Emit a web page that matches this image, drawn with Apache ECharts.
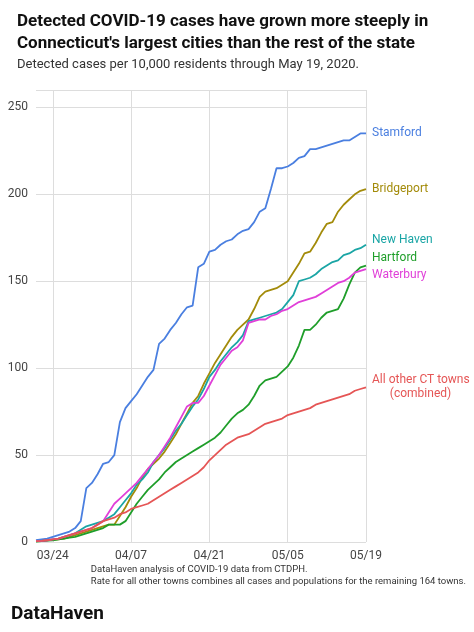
<!DOCTYPE html><html><head><meta charset="utf-8"><script src="https://cdn.jsdelivr.net/npm/echarts@6/dist/echarts.min.js"></script>
<style>body{margin:0}#c{width:474px;height:632px}</style></head><body><div id="c"></div><script>
const dates=[];(function(){const d=new Date(2020,2,21);for(let i=0;i<60;i++){dates.push(String(d.getMonth()+1).padStart(2,'0')+'/'+String(d.getDate()).padStart(2,'0'));d.setDate(d.getDate()+1);}})();
const stamford=[1,1.5,2,3,4,5,6,8,12,31,34,39,45,46,50,69,77,81,85,90,95,99,114,117,122,126,131,135,136,158,160,167,168,171,173,174,177,179,180,184,190,192,203,215,215,216,218,221,222,226,226,227,228,229,230,231,231,233,235,235];
const bridgeport=[0.5,0.7,1,1.2,1.5,2,3,4,5,6,7,8,9,10,10,15,20,26,31,37,42,45,48,52,57,62,68,74,80,84,91,97,103,108,113,118,122,125,128,134,141,144,145,146,148,150,155,160,166,167,172,178,183,184,190,194,197,200,202,203];
const newhaven=[0.5,0.7,1,1.5,2,3,4,5,7,9,10,11,12,14,16,20,24,28,33,36,40,46,50,54,59,64,68,73,78,82,88,95,99,104,108,112,115,119,127,128,129,130,131,132,134,138,142,150,151,152,154,157,159,161,162,165,166,168,169,171];
const hartford=[0.3,0.5,0.8,1,1.5,2,2.5,3,4,5,6,7,8,10,10,10,12,17,22,26,30,33,36,40,43,46,48,50,52,54,56,58,60,63,67,71,74,76,79,84,90,93,94,95,98,101,106,113,122,122,125,129,132,133,134,140,148,155,158,159];
const waterbury=[0.5,0.7,1,1.5,2,3,4,5,6,7,8,10,12,17,22,25,28,31,34,38,42,46,50,55,60,66,72,78,80,80,84,90,96,102,106,110,112,116,126,127,128,128,130,131,133,134,136,138,139,140,141,143,145,147,149,150,152,155,156,157];
const other=[0.5,0.7,1,1.5,2,3,4,5,6,7,8,10,12,13,14,16,17,19,20,21,22,24,26,28,30,32,34,36,38,40,43,47,50,53,56,58,60,61,62,64,66,68,69,70,71,73,74,75,76,77,79,80,81,82,83,84,85,87,88,89];
const names=['Stamford','Bridgeport','New Haven','Hartford','Waterbury','All other CT towns\n      (combined)'];
const colors=['#4a7fe0','#a38b0a','#1aa5a5','#1f9e2a','#e03fd8','#e55555'];
const vals=[stamford,bridgeport,newhaven,hartford,waterbury,other];
const ch=echarts.init(document.getElementById('c'));
const iv=(i)=>(i-3)%14===0;
ch.setOption({animation:false,textStyle:{fontFamily:'Roboto'},
title:[{text:"Detected COVID-19 cases have grown more steeply in\nConnecticut's largest cities than the rest of the state",left:12,top:6,textStyle:{fontSize:17,fontWeight:'bold',color:'#111',lineHeight:22}},
{text:'Detected cases per 10,000 residents through May 19, 2020.',left:12,top:53,textStyle:{fontSize:13,fontWeight:'normal',color:'#333'}},
{text:'DataHaven',left:6,top:600,textStyle:{fontSize:19,fontWeight:'bold',color:'#111'}}],
graphic:[{type:'text',right:8,top:564,style:{text:'DataHaven analysis of COVID-19 data from CTDPH.\nRate for all other towns combines all cases and populations for the remaining 164 towns.',align:'right',fontSize:9.5,lineHeight:12,fill:'#333',fontFamily:'Roboto'}}],
grid:{left:36,right:108,top:90,bottom:90},
xAxis:{type:'category',data:dates,boundaryGap:false,axisLine:{show:false},axisTick:{show:false},
 axisLabel:{interval:(i)=>iv(i),color:'#444',fontSize:12},splitLine:{show:true,interval:(i)=>iv(i),lineStyle:{color:'#ddd'}}},
yAxis:{type:'value',min:0,max:260,interval:50,axisLabel:{color:'#444',fontSize:12,showMaxLabel:false},splitLine:{lineStyle:{color:'#ddd'}}},
series:vals.map((v,k)=>({name:names[k],type:'line',data:v,showSymbol:false,lineStyle:{width:1.8,color:colors[k]},itemStyle:{color:colors[k]},
 endLabel:{show:true,formatter:names[k],color:colors[k],fontSize:12,lineHeight:14,distance:2,offset:[[4,0],[4,0],[4,-5],[4,-8],[4,6],[4,0]][k]}}))
});
</script></body></html>
